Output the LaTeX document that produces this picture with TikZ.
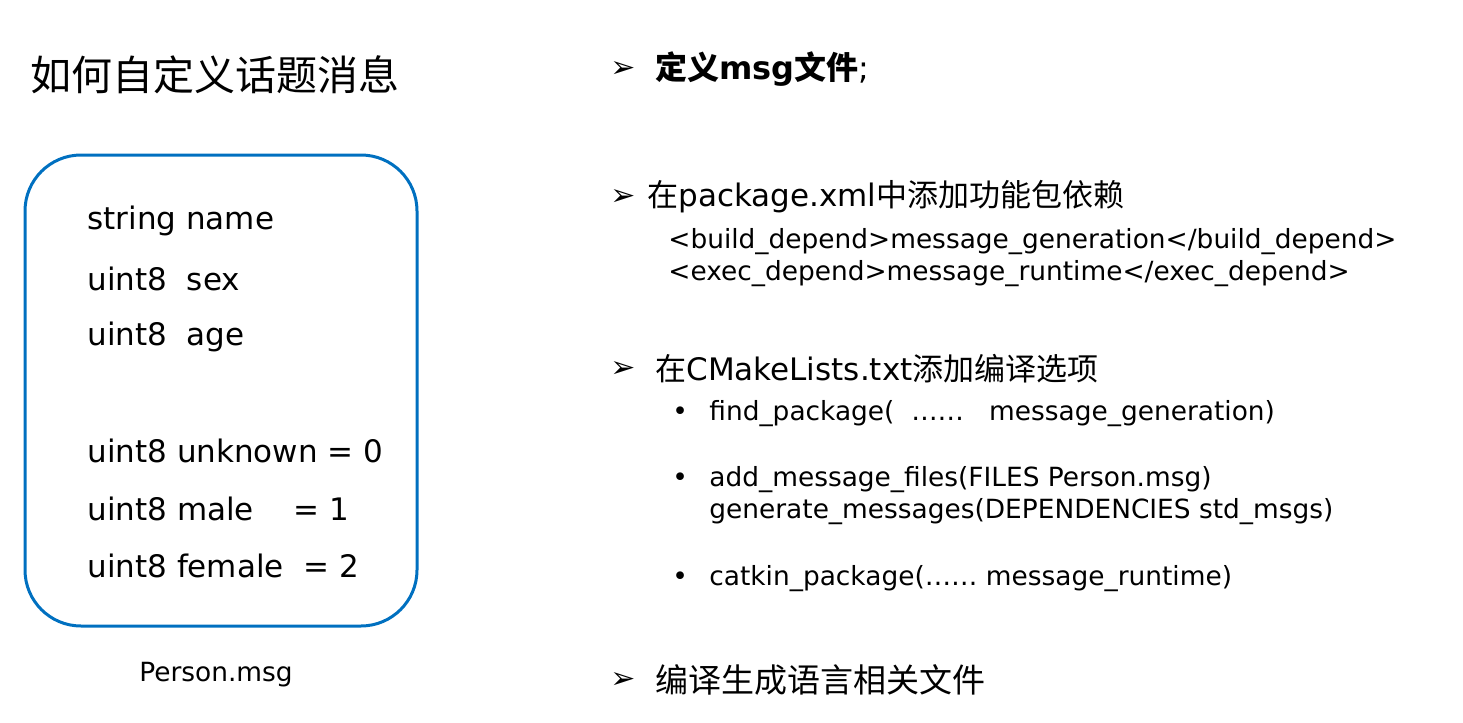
\documentclass[tikz,border=0pt]{standalone}
\usepackage{fontspec}
\setmainfont{DejaVu Sans}
\newfontfamily\cjk{Noto Sans CJK SC}
\newfontfamily\symf{DejaVu Sans}
\definecolor{boxblue}{RGB}{0,112,192}
\begin{document}
\begin{tikzpicture}[x=0.5pt,y=-0.5pt]
\tikzset{txt/.style={anchor=west,inner sep=0pt},
 big/.style={txt,font=\cjk\fontsize{20.5}{24}\selectfont},
 mid/.style={txt,font=\fontsize{15.5}{20}\selectfont},
 code/.style={txt,font=\fontsize{13.2}{15}\selectfont},
 arr/.style={txt,font=\symf\bfseries\fontsize{15}{17}\selectfont}}
\useasboundingbox (0,0) rectangle (1463,723);
\node[big] (title) at (30,75) {如何自定义话题消息};
\draw[boxblue,line width=1.5pt,rounded corners=28pt] (25,155) rectangle (417,626);
\node[mid] (l1) at (87,221) {string name};
\node[mid] (l2) at (87,279) {uint8\ \ sex};
\node[mid] (l3) at (87,337) {uint8\ \ age};
\node[mid] (l4) at (87,451) {uint8 unknown = 0};
\node[mid] (l5) at (87,509) {uint8 male\ \ \ \ = 1};
\node[mid] (l6) at (87,566) {uint8 female\ \ = 2};
\node[code,anchor=center] (pm) at (216,675) {Person.msg};
\node[arr] (a1) at (610,69) {➢};
\node[txt,font=\fontsize{16}{20}\selectfont\bfseries] (s1) at (655,69) {{\cjk 定义}msg{\cjk 文件}\textmd{;}};
\node[arr] (a2) at (610,197) {➢};
\node[mid] (s2) at (647,197) {{\cjk 在}package.xml{\cjk 中添加功能包依赖}};
\node[code] (c1) at (668,242) {<build\_depend>message\_generation</build\_depend>};
\node[code] (c2) at (668,274) {<exec\_depend>message\_runtime</exec\_depend>};
\node[arr] (a3) at (610,369) {➢};
\node[mid] (s3) at (655,369) {{\cjk 在}CMakeLists.txt{\cjk 添加编译选项}};
\node[code] (b1) at (672,414) {•};
\node[code] (d1) at (709,414) {find\_package(\ \ ……\ \ \ message\_generation)};
\node[code] (b2) at (672,480) {•};
\node[code] (d2) at (709,480) {add\_message\_files(FILES Person.msg)};
\node[code] (d3) at (709,512) {generate\_messages(DEPENDENCIES std\_msgs)};
\node[code] (b3) at (672,579) {•};
\node[code] (d4) at (709,579) {catkin\_package(…… message\_runtime)};
\node[arr] (a4) at (610,680) {➢};
\node[mid,font=\cjk\fontsize{16.5}{20}\selectfont] (s4) at (655,680) {编译生成语言相关文件};
\end{tikzpicture}
\end{document}
